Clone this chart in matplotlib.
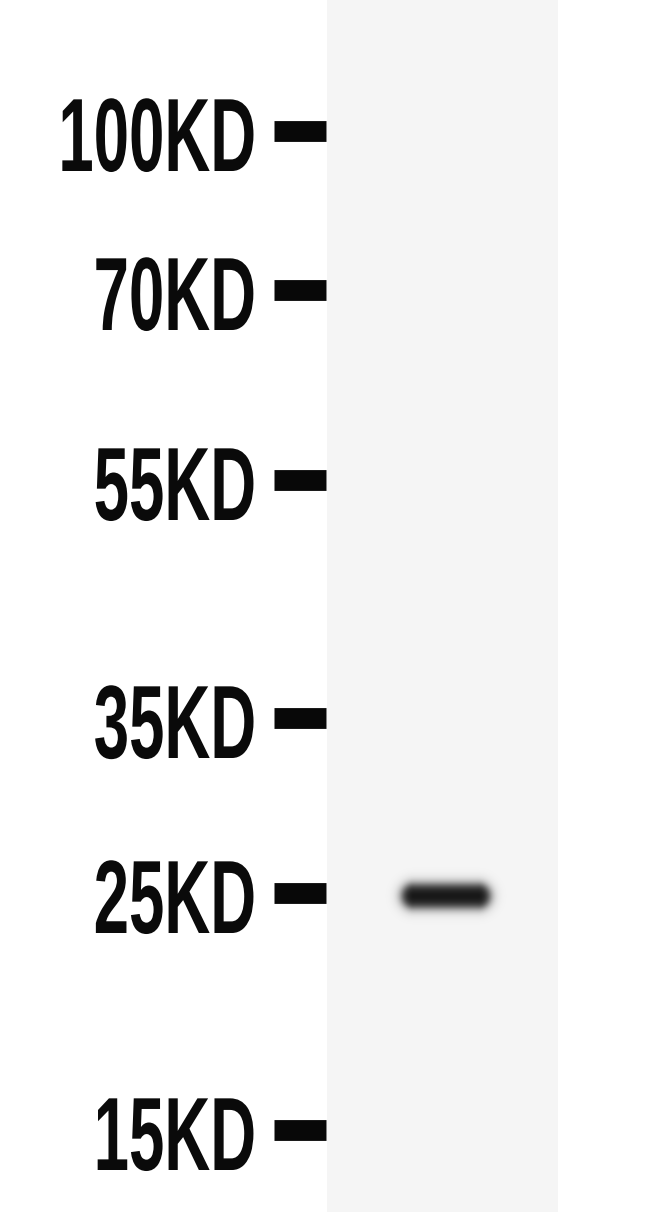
import matplotlib
matplotlib.use("Agg")
import matplotlib.pyplot as plt
import numpy as np
from matplotlib.patches import Rectangle
from matplotlib.patheffects import AbstractPathEffect
from matplotlib.transforms import Affine2D

# Marker ladder (labels and their vertical positions in the image, px from top)
marker_labels = ["100KD", "70KD", "55KD", "35KD", "25KD", "15KD"]
marker_y = [131, 290, 480, 718, 893, 1130]

# Detected band: lane, position (px from top), intensity 0..1
band_lane = [1]
band_y = [896]
band_intensity = [0.95]

W, H = 650, 1218
fig = plt.figure(figsize=(W / 100, H / 100), dpi=100)
ax = fig.add_axes([0, 0, 1, 1])
ax.set_xlim(0, W)
ax.set_ylim(H, 0)
ax.axis("off")
fig.patch.set_facecolor("white")


class Squeeze(AbstractPathEffect):
    """Horizontally condense text about a fixed display x anchor."""
    def __init__(self, sx, anchor):
        super().__init__()
        self.sx = sx
        self.anchor = anchor

    def draw_path(self, renderer, gc, tpath, affine, rgbFace=None):
        t = affine + Affine2D().translate(-self.anchor, 0).scale(self.sx, 1).translate(self.anchor, 0)
        renderer.draw_path(gc, tpath, t, rgbFace)


# membrane lane
lane_x0, lane_x1 = 327, 558
ax.add_patch(Rectangle((lane_x0, 0), lane_x1 - lane_x0, H - 6,
                       facecolor="#f5f5f5", edgecolor="none", zorder=1))

renderer = fig.canvas.get_renderer()
sx = 0.61
right_edge = 256
for lab, y in zip(marker_labels, marker_y):
    t = ax.text(0, y + 40, lab, ha="left", va="baseline",
                family=["Liberation Sans", "DejaVu Sans"],
                fontweight="bold", fontsize=75, color="#0a0a0a", zorder=3)
    w = t.get_window_extent(renderer=renderer).width
    x_left = right_edge - sx * w
    t.set_x(x_left)
    t.set_path_effects([Squeeze(sx, x_left)])
    ax.plot([274, 326], [y, y], color="#080808", lw=15,
            solid_capstyle="butt", zorder=3)

# band rendered as a soft rounded bar
for lane, y, inten in zip(band_lane, band_y, band_intensity):
    cx = 446
    hw, hh, r, sig = 44, 12, 12, 3.0
    xs = np.arange(cx - 70, cx + 70)
    ys = np.arange(y - 30, y + 30)
    X, Y = np.meshgrid(xs + 0.5, ys + 0.5)
    qx = np.abs(X - cx) - (hw - r)
    qy = np.abs(Y - y) - (hh - r)
    d = np.hypot(np.maximum(qx, 0), np.maximum(qy, 0)) + np.minimum(np.maximum(qx, qy), 0) - r
    a = 1 / (1 + np.exp(d / sig)) * inten
    img = np.zeros(X.shape + (4,))
    img[..., :3] = 0.07
    img[..., 3] = np.clip(a * 1.05, 0, 1)
    ax.imshow(img, extent=(xs[0], xs[-1] + 1, ys[-1] + 1, ys[0]),
              interpolation="bilinear", zorder=2, aspect="auto")

ax.set_xlim(0, W)
ax.set_ylim(H, 0)
fig.savefig("out.png", dpi=100, facecolor="white")
